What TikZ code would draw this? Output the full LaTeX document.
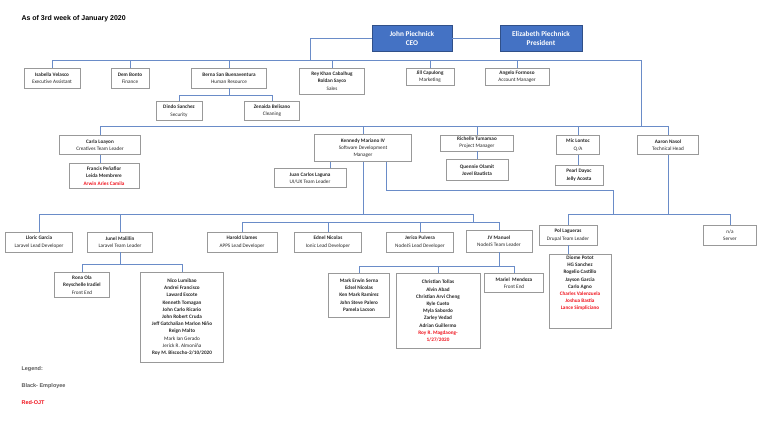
\documentclass[tikz,border=0pt]{standalone}
\usepackage{fontspec}
\setmainfont{Carlito}
\newfontfamily\heads{Liberation Sans}
\usetikzlibrary{positioning}
\definecolor{chartblue}{HTML}{4472C4}
\definecolor{linkblue}{HTML}{6A8CC8}
\definecolor{ojtred}{HTML}{F0141E}
\newcommand{\nm}[1]{\textbf{#1}}
\newcommand{\ojt}[1]{\textcolor{ojtred}{\textbf{#1}}}

\begin{document}
\begin{tikzpicture}[x=1pt, y=-1pt,
    box/.style={rectangle, draw=black!40, line width=0.7pt, fill=white, align=center,
                font=\fontsize{5.2}{7.2}\selectfont, inner sep=1pt, text=black!85},
    chief/.style={rectangle, draw=chartblue!70!black, fill=chartblue, text=white, align=center,
                  font=\fontsize{7.3}{9}\selectfont\bfseries, line width=0.6pt},
    link/.style={draw=linkblue, line width=0.8pt},
    note/.style={anchor=west, font=\heads\fontsize{5.5}{6.5}\selectfont\bfseries, text=black!65}
    ]
    \useasboundingbox (0,0) rectangle (768,433);
    %Nodes
    \node[anchor=west, font=\heads\fontsize{7}{8}\selectfont\bfseries] (title) at (18,19) {As of 3rd week of January 2020};
    \node[chief, minimum width=80pt, minimum height=26pt] (ceo)  at (412,38) {John Piechnick\\CEO};
    \node[chief, minimum width=82pt, minimum height=26pt] (pres) at (541,38) {Elizabeth Piechnick\\President};

    \node[box, minimum width=56pt, minimum height=20pt] (isabella) at (52,78)  {\nm{Isabella Velasco}\\Executive Assistant};
    \node[box, minimum width=38pt, minimum height=20pt] (dem)      at (130,78) {\nm{Dem Bonto}\\Finance};
    \node[box, minimum width=75pt, minimum height=20pt] (berna)    at (229,78) {\nm{Berna San Buenaventura}\\Human Resource};
    \node[box, minimum width=65pt, minimum height=26pt] (rey)      at (332,81) {\nm{Rey Khan Cabalhug}\\\nm{Roldan Sayco}\\Sales};
    \node[box, minimum width=48pt, minimum height=17pt] (jill)     at (430,77) {\nm{Jill Capulong}\\Marketing};
    \node[box, minimum width=64pt, minimum height=17pt] (angelo)   at (517,77) {\nm{Angelo Formoso}\\Account Manager};
    \node[box, minimum width=46pt, minimum height=19pt] (dindo)    at (179,111) {\nm{Dindo Sanchez}\\Security};
    \node[box, minimum width=55pt, minimum height=19pt] (zenaida)  at (272,111) {\nm{Zenaida Belisano}\\Cleaning};

    \node[box, minimum width=81pt, minimum height=19pt] (carla)    at (100,145) {\nm{Carla Loayon}\\Creatives Team Leader};
    \node[box, minimum width=70pt, minimum height=25pt] (francis)  at (104,176) {\nm{Francis Peñaflor}\\\nm{Leida Membrere}\\\ojt{Arwin Aries Camila}};
    \node[box, minimum width=97pt, minimum height=27pt] (kennedy)  at (363,148) {\nm{Kennedy Mariano IV}\\Software Development\\Manager};
    \node[box, minimum width=72pt, minimum height=19pt] (juan)     at (310,178) {\nm{Juan Carlos Laguna}\\UI/UX Team Leader};
    \node[box, minimum width=73pt, minimum height=16pt] (richelle) at (477,143) {\nm{Richelle Tumamao}\\Project Manager};
    \node[box, minimum width=62pt, minimum height=21pt] (quennie)  at (477,170) {\nm{Quennie Olamit}\\\nm{Jovel Bautista}};
    \node[box, minimum width=43pt, minimum height=19pt] (mic)      at (578,145) {\nm{Mic Lontoc}\\Q/A};
    \node[box, minimum width=48pt, minimum height=20pt] (pearl)    at (579,175) {\nm{Pearl Dayoc}\\\nm{Jelly Acosta}};
    \node[box, minimum width=61pt, minimum height=19pt] (aaron)    at (668,145) {\nm{Aaron Nasol}\\Technical Head};

    \node[box, minimum width=67pt, minimum height=20pt] (lloric)   at (39,242)  {\nm{Lloric Garcia}\\Laravel Lead Developer};
    \node[box, minimum width=65pt, minimum height=20pt] (junel)    at (120,242) {\nm{Junel Malillin}\\Laravel Team Leader};
    \node[box, minimum width=70pt, minimum height=20pt] (harold)   at (242,242) {\nm{Harold Llames}\\APPS Lead Developer};
    \node[box, minimum width=67pt, minimum height=20pt] (ednel)    at (328,242) {\nm{Ednel Nicolas}\\Ionic Lead Developer};
    \node[box, minimum width=67pt, minimum height=20pt] (jerico)   at (420,242) {\nm{Jerico Pulvera}\\NodeJS Lead Developer};
    \node[box, minimum width=66pt, minimum height=22pt] (jv)       at (499,241) {\nm{JV Manuel}\\NodeJS Team Leader};
    \node[box, minimum width=58pt, minimum height=20pt] (pol)      at (568,235) {\nm{Pol Lagueras}\\Drupal Team Leader};
    \node[box, minimum width=53pt, minimum height=20pt] (na)       at (730,235) {n/a\\Server};

    \node[box, minimum width=55pt, minimum height=25pt] (rona)     at (82,285) {\nm{Rona Ola}\\\nm{Reyschelle Iradiel}\\Front End};
    \node[box, minimum width=83pt, minimum height=90pt] (nico)     at (182,317) {\nm{Nico Lumibao}\\\nm{Andrei Francisco}\\\nm{Laward Escote}\\\nm{Kenneth Tomagan}\\\nm{John Carlo Ricario}\\\nm{John Robert Cruda}\\\nm{Jeff Gatchalian Marlon Niño}\\\nm{Reign Malto}\\Mark Ian Gerado\\Jerick R. Almoniña\\\nm{Roy M. Biscocho-2/10/2020}};
    \node[box, minimum width=61pt, minimum height=44pt] (mark)     at (359,295) {\nm{Mark Erwin Serna}\\\nm{Edsel Nicolas}\\\nm{Ken Mark Ramirez}\\\nm{John Steve Palero}\\\nm{Pamela Lacson}};
    \node[box, minimum width=84pt, minimum height=75pt] (christian) at (438,311) {\nm{Christian Tollas}\\\nm{Alvin Abad}\\\nm{Christian Arvi Cheng}\\\nm{Kyle Cueto}\\\nm{Myla Sabordo}\\\nm{Zarley Vedad}\\\nm{Adrian Guillermo}\\\ojt{Roy R. Magdaong-}\\\ojt{1/27/2020}};
    \node[box, minimum width=59pt, minimum height=19pt] (mariel)   at (514,283) {\nm{Mariel\ \ Mendoza}\\Front End};
    \node[box, minimum width=62pt, minimum height=74pt] (diome)    at (580,291) {\nm{Diome Potot}\\\nm{HG Sanchez}\\\nm{Rogelio Castillo}\\\nm{Jayson Garcia}\\\nm{Carlo Agno}\\\ojt{Charles Valenzuela}\\\ojt{Joshua Bastia}\\\ojt{Lance Simpliciano}\\[9pt]};

    \node[note] (legend) at (18,369) {Legend:};
    \node[note] (black)  at (18,386) {Black- Employee};
    \node[note, text=ojtred] (red) at (18,403) {Red-OJT};

    %Bus points
    \coordinate (b1)  at (310,60);
    \coordinate (b1r) at (641,60);
    \coordinate (b2)  at (641,126);
    \coordinate (b3)  at (362,214);
    \coordinate (b3r) at (473,214);
    \coordinate (b4)  at (473,222);
    \coordinate (b5)  at (613,214);
    \coordinate (k1)  at (386,190);

    %Lines
    \draw[link] (ceo) -- (pres);
    \draw[link] (ceo.west) -| (b1);
    \draw[link] (isabella.north |- b1) -- (b1r) -- (b2);
    \foreach \n in {isabella,dem,berna,rey,jill,angelo}
        \draw[link] (\n.north) -- (\n.north |- b1);
    \draw[link] (berna.south) -- (berna.south |- 0,95);
    \draw[link] (dindo.north) |- (0,95 -| zenaida.north) -- (zenaida.north);
    \draw[link] (carla.north |- b2) -- (aaron.north |- b2);
    \foreach \n in {carla,kennedy,richelle,mic,aaron}
        \draw[link] (\n.north) -- (\n.north |- b2);
    \draw[link] (carla.south) -- (carla.south |- francis.north);
    \draw[link] (richelle.south) -- (richelle.south |- quennie.north);
    \draw[link] (mic.south) -- (mic.south |- pearl.north);
    \draw[link] ([xshift=20pt]juan.north) -- ([xshift=20pt]juan.north |- kennedy.south);
    \draw[link] (kennedy.south |- b3) -- (kennedy.south);
    \draw[link] (lloric.north) |- (b3r) -- (b4);
    \draw[link] (junel.north) -- (junel.north |- b3);
    \draw[link] (harold.north) |- (b4 -| jv.north) -- (jv.north);
    \foreach \n in {ednel,jerico}
        \draw[link] (\n.north) -- (\n.north |- b4);
    \draw[link] (kennedy.south -| k1) -- (k1) -| (b5);
    \draw[link] (pol.north) |- (b5 -| na.north) -- (na.north);
    \draw[link] (aaron.south) -- (aaron.south |- b5);
    \draw[link] (pol.south) -- (pol.south |- diome.north);
    \draw[link] (junel.south) -- (junel.south |- 0,264);
    \draw[link] (rona.north) |- (0,264 -| nico.north) -- (nico.north);
    \draw[link] (jv.south) -- (jv.south |- 0,266);
    \draw[link] (mark.north) |- (0,266 -| mariel.north) -- (mariel.north);
    \draw[link] (christian.north) -- (christian.north |- 0,266);
\end{tikzpicture}
\end{document}
